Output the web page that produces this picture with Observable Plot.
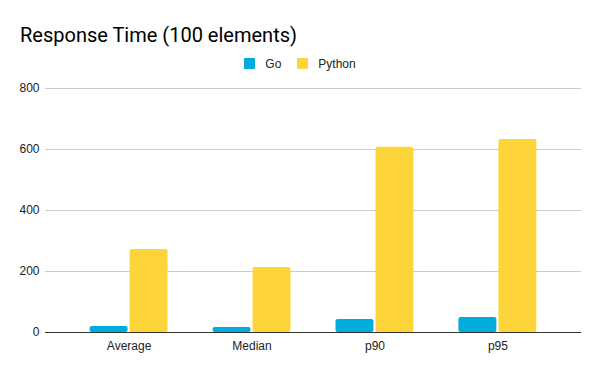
<!DOCTYPE html>
<html>
<head>
<meta charset="utf-8">
<script src="https://cdn.jsdelivr.net/npm/d3@7"></script>
<script src="https://cdn.jsdelivr.net/npm/@observablehq/plot@0.6"></script>
<style>
  html, body { margin: 0; padding: 0; background: #fff; }
  body { width: 600px; height: 371px; overflow: hidden; font-family: "Liberation Sans", Arial, sans-serif; }
  #title { height: 50px; box-sizing: border-box; padding: 23px 0 0 20px; font-family: Roboto, "Liberation Sans", sans-serif; font-size: 20px; line-height: 24px; color: #000; white-space: nowrap; }
  #legend { height: 24px; box-sizing: border-box; padding-top: 3px; display: flex; justify-content: center; align-items: center; font-size: 12px; color: #222; line-height: 14px; }
  .item { display: flex; align-items: center; margin: 0 8px; }
  .sw { width: 11px; height: 11px; border-radius: 1px; margin-right: 10px; }
  svg { display: block; }
</style>
</head>
<body>
<div id="title">Response Time (100 elements)</div>
<div id="legend"></div>
<div id="chart"></div>
<script>
const categories = ["Average", "Median", "p90", "p95"];
const series = ["Go", "Python"];
const goValues = [20, 16, 43, 49];
const pythonValues = [272, 213, 607, 633];
const yTicks = [0, 200, 400, 600, 800];
const colors = ["#00acd9", "#fdd43a"];

const goData = categories.map((c, i) => ({category: c, series: "Go", value: goValues[i]}));
const pyData = categories.map((c, i) => ({category: c, series: "Python", value: pythonValues[i]}));

const legend = document.getElementById("legend");
series.forEach((s, i) => {
  const it = document.createElement("div");
  it.className = "item";
  const sw = document.createElement("div");
  sw.className = "sw";
  sw.style.background = colors[i];
  const tx = document.createElement("span");
  tx.textContent = s;
  it.appendChild(sw);
  it.appendChild(tx);
  legend.appendChild(it);
});

const chart = Plot.plot({
  width: 600,
  height: 297,
  marginLeft: 45,
  marginRight: 19,
  marginTop: 14,
  marginBottom: 39,
  style: {fontFamily: "'Liberation Sans', Arial, sans-serif", fontSize: "12px", color: "#222", background: "#fff"},
  x: {domain: categories, paddingInner: 0, paddingOuter: 0.18, round: false, label: null, tickSize: 0, tickPadding: 9},
  y: {domain: [0, 800], ticks: yTicks, label: null, tickSize: 0, tickPadding: 6},
  color: {domain: series, range: colors},
  marks: [
    Plot.ruleY(yTicks.filter(d => d > 0), {stroke: "#cccccc", strokeWidth: 1}),
    Plot.barY(goData, {x: "category", y: "value", fill: "series", insetLeft: 22.5, insetRight: 62.5, rx: 2}),
    Plot.barY(pyData, {x: "category", y: "value", fill: "series", insetLeft: 62.5, insetRight: 22.5, rx: 2}),
    Plot.ruleY([0], {stroke: "#333", strokeWidth: 1})
  ]
});
document.getElementById("chart").appendChild(chart);
</script>
</body>
</html>
